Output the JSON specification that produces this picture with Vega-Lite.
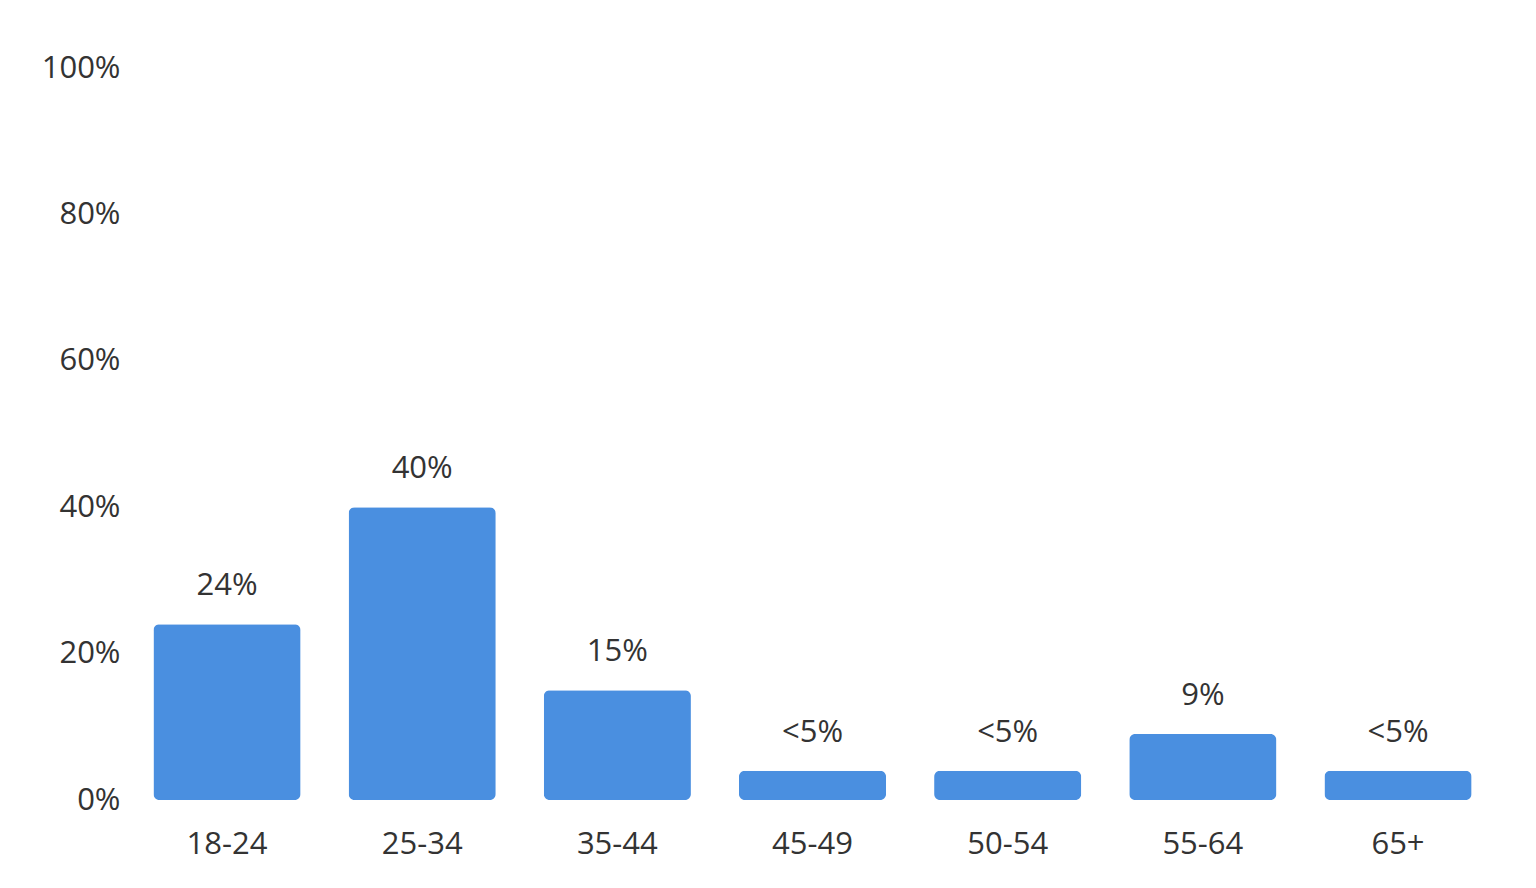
{
  "$schema": "https://vega.github.io/schema/vega-lite/v6.json",
  "autosize": "none",
  "padding": {"left": 130, "top": 68, "right": 41, "bottom": 88},
  "width": 1365,
  "height": 732,
  "background": "white",
  "config": {
    "view": {"stroke": null},
    "font": "Open Sans"
  },
  "data": {
    "values": [
      {"age": "18-24", "share": 24, "label": "24%"},
      {"age": "25-34", "share": 40, "label": "40%"},
      {"age": "35-44", "share": 15, "label": "15%"},
      {"age": "45-49", "share": 4, "label": "<5%"},
      {"age": "50-54", "share": 4, "label": "<5%"},
      {"age": "55-64", "share": 9, "label": "9%"},
      {"age": "65+", "share": 4, "label": "<5%"}
    ]
  },
  "encoding": {
    "x": {
      "field": "age",
      "type": "nominal",
      "sort": null,
      "scale": {"paddingInner": 0.246, "paddingOuter": 0.12},
      "axis": {
        "title": null,
        "domain": false,
        "ticks": false,
        "labelAngle": 0,
        "labelFontSize": 31,
        "labelColor": "#333333",
        "labelPadding": 29,
        "labelFont": "Open Sans"
      }
    },
    "y": {
      "field": "share",
      "type": "quantitative",
      "scale": {"domain": [0, 100]},
      "axis": {
        "title": null,
        "domain": false,
        "ticks": false,
        "grid": false,
        "values": [0, 20, 40, 60, 80, 100],
        "labelExpr": "datum.value + '%'",
        "labelFontSize": 31,
        "labelColor": "#333333",
        "labelPadding": 10,
        "labelFont": "Open Sans"
      }
    }
  },
  "layer": [
    {
      "mark": {"type": "bar", "color": "#4a8fe0", "cornerRadius": 6}
    },
    {
      "mark": {
        "type": "text",
        "baseline": "bottom",
        "dy": -22,
        "fontSize": 31,
        "color": "#333333",
        "font": "Open Sans"
      },
      "encoding": {"text": {"field": "label"}}
    }
  ]
}
